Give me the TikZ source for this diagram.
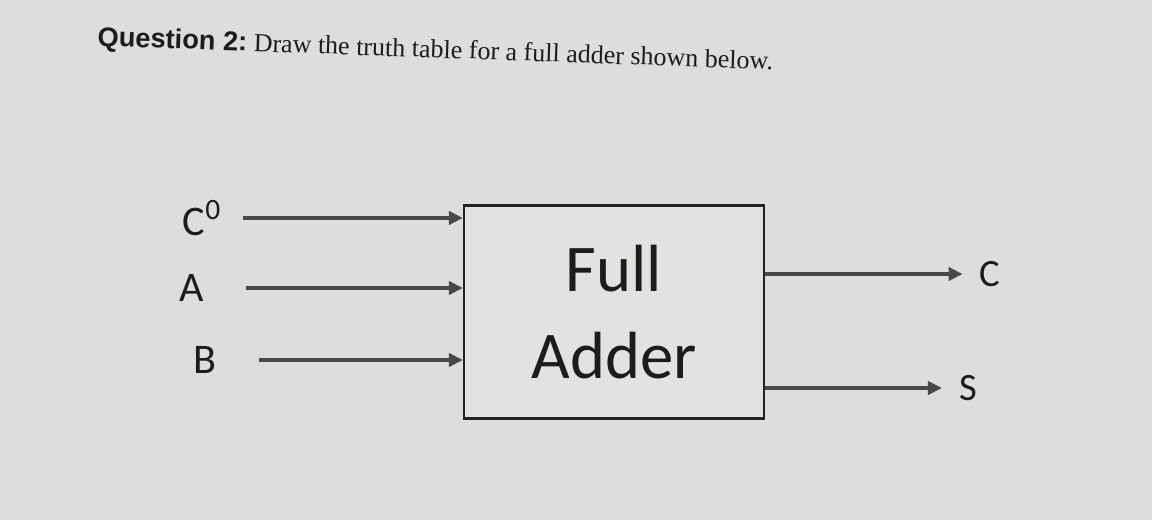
\documentclass[tikz,border=0pt]{standalone}
\usepackage{fontspec}
\setmainfont{Liberation Serif}
\newfontfamily\headfont{Liberation Sans}
\newfontfamily\labelfont{Carlito}
\usetikzlibrary{arrows.meta,positioning}
\definecolor{paper}{RGB}{221,221,219}
\definecolor{boxfill}{RGB}{226,226,224}
\definecolor{ink}{RGB}{72,72,72}
\definecolor{letter}{RGB}{28,28,28}
\tikzset{
  wire/.style={draw=ink, line width=2pt, ->},
  pin/.style={text=letter, font=\labelfont\fontsize{24}{28}\selectfont, inner sep=1pt},
}

\begin{document}
\begin{tikzpicture}[x=0.02cm, y=-0.02cm, >={Triangle[length=8pt,width=7.5pt]}]
    \useasboundingbox[fill=paper] (0,0) rectangle (1152,520);

    % heading
    \node[anchor=base west, inner sep=0, rotate=-2, text=letter] (title) at (97,46)
        {{\headfont\bfseries\fontsize{15.5}{19}\selectfont Question 2:}\fontsize{14.8}{19}\selectfont\ Draw the truth table for a full adder shown below.};

    % the block
    \node[draw=letter!85!ink, line width=1.3pt, fill=boxfill, minimum width=6cm, minimum height=4.26cm,
          align=center, text=letter, font=\labelfont\fontsize{38}{50}\selectfont] (fa) at (614,312) {Full\\Adder};

    % inputs
    \node[pin] (cin) at (202,218) {C\textsuperscript{0}};
    \node[pin] (a)   at (192,288) {A};
    \node[pin] (b)   at (205,360) {B};

    % outputs
    \node[pin, font=\labelfont\fontsize{22}{26}\selectfont] (c) at (990,274) {C};
    \node[pin, font=\labelfont\fontsize{22}{26}\selectfont] (s) at (968,388) {S};

    \draw[wire] ([xshift=0.4cm]cin.east) -- (cin -| fa.west);
    \draw[wire] ([xshift=0.8cm]a.east)   -- (a -| fa.west);
    \draw[wire] ([xshift=0.8cm]b.east)   -- (b -| fa.west);
    \draw[wire] (fa.east |- c) -- ([xshift=-0.3cm]c.west);
    \draw[wire] (fa.east |- s) -- ([xshift=-0.3cm]s.west);
\end{tikzpicture}
\end{document}
